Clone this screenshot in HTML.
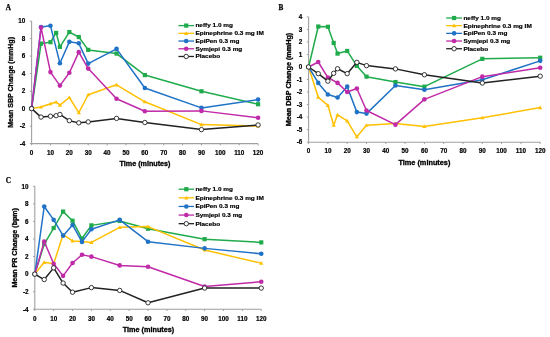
<!DOCTYPE html>
<html><head><meta charset="utf-8"><style>
html,body{margin:0;padding:0;background:#fff;width:550px;height:337px;overflow:hidden}
svg{display:block;will-change:transform}
.t{font-family:"Liberation Sans", sans-serif;font-weight:bold;font-size:6.3px;fill:#000;stroke:#000;stroke-width:0.2px}
.ti{font-family:"Liberation Sans", sans-serif;font-weight:bold;font-size:7px;fill:#000;stroke:#000;stroke-width:0.3px}
.lg{font-family:"Liberation Sans", sans-serif;font-weight:bold;font-size:6.45px;fill:#000;stroke:#000;stroke-width:0.2px}
.L{font-family:"Liberation Serif", serif;font-weight:bold;font-size:7.2px;fill:#000;stroke:#000;stroke-width:0.25px}
</style></head><body>
<svg width="550" height="337" viewBox="0 0 550 337">
<rect width="550" height="337" fill="#fff"/>
<g><path d="M31.60 21.10V143.60H258.10" fill="none" stroke="#a0a0a0" stroke-width="1.1"/>
<path d="M29.80 143.60H31.60M29.80 126.10H31.60M29.80 108.60H31.60M29.80 91.10H31.60M29.80 73.60H31.60M29.80 56.10H31.60M29.80 38.60H31.60M29.80 21.10H31.60M31.60 143.60V145.40M50.48 143.60V145.40M69.35 143.60V145.40M88.22 143.60V145.40M107.10 143.60V145.40M125.97 143.60V145.40M144.85 143.60V145.40M163.72 143.60V145.40M182.60 143.60V145.40M201.47 143.60V145.40M220.35 143.60V145.40M239.22 143.60V145.40M258.10 143.60V145.40" fill="none" stroke="#a0a0a0" stroke-width="1"/>
<text x="25.30" y="145.90" text-anchor="end" class="t">-4</text>
<text x="25.30" y="128.40" text-anchor="end" class="t">-2</text>
<text x="25.30" y="110.90" text-anchor="end" class="t">0</text>
<text x="25.30" y="93.40" text-anchor="end" class="t">2</text>
<text x="25.30" y="75.90" text-anchor="end" class="t">4</text>
<text x="25.30" y="58.40" text-anchor="end" class="t">6</text>
<text x="25.30" y="40.90" text-anchor="end" class="t">8</text>
<text x="25.30" y="23.40" text-anchor="end" class="t">10</text>
<text x="31.60" y="155.00" text-anchor="middle" class="t">0</text>
<text x="50.48" y="155.00" text-anchor="middle" class="t">10</text>
<text x="69.35" y="155.00" text-anchor="middle" class="t">20</text>
<text x="88.22" y="155.00" text-anchor="middle" class="t">30</text>
<text x="107.10" y="155.00" text-anchor="middle" class="t">40</text>
<text x="125.97" y="155.00" text-anchor="middle" class="t">50</text>
<text x="144.85" y="155.00" text-anchor="middle" class="t">60</text>
<text x="163.72" y="155.00" text-anchor="middle" class="t">70</text>
<text x="182.60" y="155.00" text-anchor="middle" class="t">80</text>
<text x="201.47" y="155.00" text-anchor="middle" class="t">90</text>
<text x="220.35" y="155.00" text-anchor="middle" class="t">100</text>
<text x="239.22" y="155.00" text-anchor="middle" class="t">110</text>
<text x="258.10" y="155.00" text-anchor="middle" class="t">120</text>
<text transform="translate(145.00 165.80) scale(1.027 1)" text-anchor="middle" class="ti">Time (minutes)</text>
<text transform="translate(13.30 82.40) rotate(-90) scale(1.010 1)" text-anchor="middle" class="ti">Mean SBP Change (mmHg)</text>
<text x="5.7" y="10" class="L">A</text>
<path d="M31.60 108.60 L41.04 43.59 L50.48 42.19 L56.14 32.91 L59.91 46.82 L69.35 32.04 L78.79 37.02 L88.22 49.89 L116.54 53.56 L144.85 75.09 L201.47 91.27 L258.10 104.22" fill="none" stroke="#1fab4b" stroke-width="1.5" stroke-linejoin="round"/>
<rect x="29.50" y="106.50" width="4.20" height="4.20" fill="#1fab4b"/>
<rect x="38.94" y="41.49" width="4.20" height="4.20" fill="#1fab4b"/>
<rect x="48.38" y="40.09" width="4.20" height="4.20" fill="#1fab4b"/>
<rect x="54.04" y="30.81" width="4.20" height="4.20" fill="#1fab4b"/>
<rect x="57.81" y="44.72" width="4.20" height="4.20" fill="#1fab4b"/>
<rect x="67.25" y="29.94" width="4.20" height="4.20" fill="#1fab4b"/>
<rect x="76.69" y="34.92" width="4.20" height="4.20" fill="#1fab4b"/>
<rect x="86.12" y="47.79" width="4.20" height="4.20" fill="#1fab4b"/>
<rect x="114.44" y="51.46" width="4.20" height="4.20" fill="#1fab4b"/>
<rect x="142.75" y="72.99" width="4.20" height="4.20" fill="#1fab4b"/>
<rect x="199.38" y="89.17" width="4.20" height="4.20" fill="#1fab4b"/>
<rect x="256.00" y="102.12" width="4.20" height="4.20" fill="#1fab4b"/>
<path d="M31.60 108.60 L41.04 107.02 L50.48 103.79 L56.14 102.04 L59.91 105.19 L69.35 97.49 L78.79 112.71 L88.22 94.77 L116.54 84.80 L144.85 101.77 L201.47 124.61 L258.10 126.01" fill="none" stroke="#ffc000" stroke-width="1.5" stroke-linejoin="round"/>
<path d="M31.60 106.50L33.70 110.17L29.50 110.17Z" fill="#ffc000"/>
<path d="M41.04 104.92L43.14 108.60L38.94 108.60Z" fill="#ffc000"/>
<path d="M50.48 101.69L52.58 105.36L48.38 105.36Z" fill="#ffc000"/>
<path d="M56.14 99.94L58.24 103.61L54.04 103.61Z" fill="#ffc000"/>
<path d="M59.91 103.09L62.01 106.76L57.81 106.76Z" fill="#ffc000"/>
<path d="M69.35 95.39L71.45 99.06L67.25 99.06Z" fill="#ffc000"/>
<path d="M78.79 110.61L80.89 114.29L76.69 114.29Z" fill="#ffc000"/>
<path d="M88.22 92.67L90.32 96.35L86.12 96.35Z" fill="#ffc000"/>
<path d="M116.54 82.70L118.64 86.38L114.44 86.38Z" fill="#ffc000"/>
<path d="M144.85 99.67L146.95 103.35L142.75 103.35Z" fill="#ffc000"/>
<path d="M201.47 122.51L203.57 126.19L199.38 126.19Z" fill="#ffc000"/>
<path d="M258.10 123.91L260.20 127.59L256.00 127.59Z" fill="#ffc000"/>
<path d="M31.60 108.60 L41.04 26.96 L50.48 25.82 L59.91 63.19 L69.35 41.84 L78.79 43.32 L88.22 63.62 L116.54 48.84 L144.85 88.04 L201.47 107.90 L258.10 99.59" fill="none" stroke="#1f72c6" stroke-width="1.5" stroke-linejoin="round"/>
<circle cx="31.60" cy="108.60" r="2.3" fill="#1f72c6"/>
<circle cx="41.04" cy="26.96" r="2.3" fill="#1f72c6"/>
<circle cx="50.48" cy="25.82" r="2.3" fill="#1f72c6"/>
<circle cx="59.91" cy="63.19" r="2.3" fill="#1f72c6"/>
<circle cx="69.35" cy="41.84" r="2.3" fill="#1f72c6"/>
<circle cx="78.79" cy="43.32" r="2.3" fill="#1f72c6"/>
<circle cx="88.22" cy="63.62" r="2.3" fill="#1f72c6"/>
<circle cx="116.54" cy="48.84" r="2.3" fill="#1f72c6"/>
<circle cx="144.85" cy="88.04" r="2.3" fill="#1f72c6"/>
<circle cx="201.47" cy="107.90" r="2.3" fill="#1f72c6"/>
<circle cx="258.10" cy="99.59" r="2.3" fill="#1f72c6"/>
<path d="M31.60 108.60 L41.04 27.58 L50.48 72.11 L59.91 85.59 L69.35 72.72 L78.79 52.16 L88.22 68.61 L116.54 98.80 L144.85 111.31 L201.47 110.88 L258.10 117.70" fill="none" stroke="#c02aa8" stroke-width="1.5" stroke-linejoin="round"/>
<circle cx="31.60" cy="108.60" r="2.3" fill="#c02aa8"/>
<circle cx="41.04" cy="27.58" r="2.3" fill="#c02aa8"/>
<circle cx="50.48" cy="72.11" r="2.3" fill="#c02aa8"/>
<circle cx="59.91" cy="85.59" r="2.3" fill="#c02aa8"/>
<circle cx="69.35" cy="72.72" r="2.3" fill="#c02aa8"/>
<circle cx="78.79" cy="52.16" r="2.3" fill="#c02aa8"/>
<circle cx="88.22" cy="68.61" r="2.3" fill="#c02aa8"/>
<circle cx="116.54" cy="98.80" r="2.3" fill="#c02aa8"/>
<circle cx="144.85" cy="111.31" r="2.3" fill="#c02aa8"/>
<circle cx="201.47" cy="110.88" r="2.3" fill="#c02aa8"/>
<circle cx="258.10" cy="117.70" r="2.3" fill="#c02aa8"/>
<path d="M31.60 108.60 L41.04 117.09 L50.48 116.21 L56.14 115.69 L59.91 114.46 L69.35 120.67 L78.79 122.86 L88.22 121.90 L116.54 118.40 L144.85 122.51 L201.47 129.60 L258.10 124.96" fill="none" stroke="#222222" stroke-width="1.5" stroke-linejoin="round"/>
<circle cx="31.60" cy="108.60" r="2.2" fill="#fff" stroke="#222222" stroke-width="0.9"/>
<circle cx="41.04" cy="117.09" r="2.2" fill="#fff" stroke="#222222" stroke-width="0.9"/>
<circle cx="50.48" cy="116.21" r="2.2" fill="#fff" stroke="#222222" stroke-width="0.9"/>
<circle cx="56.14" cy="115.69" r="2.2" fill="#fff" stroke="#222222" stroke-width="0.9"/>
<circle cx="59.91" cy="114.46" r="2.2" fill="#fff" stroke="#222222" stroke-width="0.9"/>
<circle cx="69.35" cy="120.67" r="2.2" fill="#fff" stroke="#222222" stroke-width="0.9"/>
<circle cx="78.79" cy="122.86" r="2.2" fill="#fff" stroke="#222222" stroke-width="0.9"/>
<circle cx="88.22" cy="121.90" r="2.2" fill="#fff" stroke="#222222" stroke-width="0.9"/>
<circle cx="116.54" cy="118.40" r="2.2" fill="#fff" stroke="#222222" stroke-width="0.9"/>
<circle cx="144.85" cy="122.51" r="2.2" fill="#fff" stroke="#222222" stroke-width="0.9"/>
<circle cx="201.47" cy="129.60" r="2.2" fill="#fff" stroke="#222222" stroke-width="0.9"/>
<circle cx="258.10" cy="124.96" r="2.2" fill="#fff" stroke="#222222" stroke-width="0.9"/>
<path d="M178.4 25.60H194" stroke="#1fab4b" stroke-width="1.3"/>
<rect x="184.10" y="23.50" width="4.20" height="4.20" fill="#1fab4b"/>
<text transform="translate(195.4 27.45) scale(1 0.95)" class="lg">neffy 1.0 mg</text>
<path d="M178.4 33.32H194" stroke="#ffc000" stroke-width="1.3"/>
<path d="M186.20 31.22L188.30 34.90L184.10 34.90Z" fill="#ffc000"/>
<text transform="translate(195.4 35.17) scale(1 0.95)" class="lg">Epinephrine 0.3 mg IM</text>
<path d="M178.4 41.04H194" stroke="#1f72c6" stroke-width="1.3"/>
<circle cx="186.20" cy="41.04" r="2.3" fill="#1f72c6"/>
<text transform="translate(195.4 42.89) scale(1 0.95)" class="lg">EpiPen 0.3 mg</text>
<path d="M178.4 48.76H194" stroke="#c02aa8" stroke-width="1.3"/>
<circle cx="186.20" cy="48.76" r="2.3" fill="#c02aa8"/>
<text transform="translate(195.4 50.61) scale(1 0.95)" class="lg">Symjepi 0.3 mg</text>
<path d="M178.4 56.48H194" stroke="#222222" stroke-width="1.3"/>
<circle cx="186.20" cy="56.48" r="2.2" fill="#fff" stroke="#222222" stroke-width="0.9"/>
<text transform="translate(195.4 58.33) scale(1 0.95)" class="lg">Placebo</text></g>
<g><path d="M308.60 16.88V142.18H540.20" fill="none" stroke="#a0a0a0" stroke-width="1.1"/>
<path d="M306.80 142.18H308.60M306.80 129.65H308.60M306.80 117.12H308.60M306.80 104.59H308.60M306.80 92.06H308.60M306.80 79.53H308.60M306.80 67.00H308.60M306.80 54.47H308.60M306.80 41.94H308.60M306.80 29.41H308.60M306.80 16.88H308.60M308.60 142.18V143.98M327.90 142.18V143.98M347.20 142.18V143.98M366.50 142.18V143.98M385.80 142.18V143.98M405.10 142.18V143.98M424.40 142.18V143.98M443.70 142.18V143.98M463.00 142.18V143.98M482.30 142.18V143.98M501.60 142.18V143.98M520.90 142.18V143.98M540.20 142.18V143.98" fill="none" stroke="#a0a0a0" stroke-width="1"/>
<text x="302.30" y="144.48" text-anchor="end" class="t">-6</text>
<text x="302.30" y="131.95" text-anchor="end" class="t">-5</text>
<text x="302.30" y="119.42" text-anchor="end" class="t">-4</text>
<text x="302.30" y="106.89" text-anchor="end" class="t">-3</text>
<text x="302.30" y="94.36" text-anchor="end" class="t">-2</text>
<text x="302.30" y="81.83" text-anchor="end" class="t">-1</text>
<text x="302.30" y="69.30" text-anchor="end" class="t">0</text>
<text x="302.30" y="56.77" text-anchor="end" class="t">1</text>
<text x="302.30" y="44.24" text-anchor="end" class="t">2</text>
<text x="302.30" y="31.71" text-anchor="end" class="t">3</text>
<text x="302.30" y="19.18" text-anchor="end" class="t">4</text>
<text x="308.60" y="153.30" text-anchor="middle" class="t">0</text>
<text x="327.90" y="153.30" text-anchor="middle" class="t">10</text>
<text x="347.20" y="153.30" text-anchor="middle" class="t">20</text>
<text x="366.50" y="153.30" text-anchor="middle" class="t">30</text>
<text x="385.80" y="153.30" text-anchor="middle" class="t">40</text>
<text x="405.10" y="153.30" text-anchor="middle" class="t">50</text>
<text x="424.40" y="153.30" text-anchor="middle" class="t">60</text>
<text x="443.70" y="153.30" text-anchor="middle" class="t">70</text>
<text x="463.00" y="153.30" text-anchor="middle" class="t">80</text>
<text x="482.30" y="153.30" text-anchor="middle" class="t">90</text>
<text x="501.60" y="153.30" text-anchor="middle" class="t">100</text>
<text x="520.90" y="153.30" text-anchor="middle" class="t">110</text>
<text x="540.20" y="153.30" text-anchor="middle" class="t">120</text>
<text transform="translate(424.40 164.50) scale(1.047 1)" text-anchor="middle" class="ti">Time (minutes)</text>
<text transform="translate(291.40 79.50) rotate(-90) scale(1.034 1)" text-anchor="middle" class="ti">Mean DBP Change (mmHg)</text>
<text x="278.4" y="10" class="L">B</text>
<path d="M308.60 67.00 L318.25 26.53 L327.90 26.78 L333.69 42.94 L337.55 53.59 L347.20 50.96 L356.85 65.87 L366.50 76.65 L395.45 82.04 L424.40 86.67 L482.30 58.86 L540.20 57.73" fill="none" stroke="#1fab4b" stroke-width="1.5" stroke-linejoin="round"/>
<rect x="306.50" y="64.90" width="4.20" height="4.20" fill="#1fab4b"/>
<rect x="316.15" y="24.43" width="4.20" height="4.20" fill="#1fab4b"/>
<rect x="325.80" y="24.68" width="4.20" height="4.20" fill="#1fab4b"/>
<rect x="331.59" y="40.84" width="4.20" height="4.20" fill="#1fab4b"/>
<rect x="335.45" y="51.49" width="4.20" height="4.20" fill="#1fab4b"/>
<rect x="345.10" y="48.86" width="4.20" height="4.20" fill="#1fab4b"/>
<rect x="354.75" y="63.77" width="4.20" height="4.20" fill="#1fab4b"/>
<rect x="364.40" y="74.55" width="4.20" height="4.20" fill="#1fab4b"/>
<rect x="393.35" y="79.94" width="4.20" height="4.20" fill="#1fab4b"/>
<rect x="422.30" y="84.57" width="4.20" height="4.20" fill="#1fab4b"/>
<rect x="480.20" y="56.76" width="4.20" height="4.20" fill="#1fab4b"/>
<rect x="538.10" y="55.63" width="4.20" height="4.20" fill="#1fab4b"/>
<path d="M308.60 67.00 L318.25 97.20 L327.90 105.34 L333.69 125.26 L337.55 114.86 L347.20 120.88 L356.85 136.79 L366.50 125.26 L395.45 123.51 L424.40 126.39 L482.30 117.75 L540.20 107.60" fill="none" stroke="#ffc000" stroke-width="1.5" stroke-linejoin="round"/>
<path d="M308.60 64.90L310.70 68.58L306.50 68.58Z" fill="#ffc000"/>
<path d="M318.25 95.10L320.35 98.77L316.15 98.77Z" fill="#ffc000"/>
<path d="M327.90 103.24L330.00 106.92L325.80 106.92Z" fill="#ffc000"/>
<path d="M333.69 123.16L335.79 126.84L331.59 126.84Z" fill="#ffc000"/>
<path d="M337.55 112.76L339.65 116.44L335.45 116.44Z" fill="#ffc000"/>
<path d="M347.20 118.78L349.30 122.45L345.10 122.45Z" fill="#ffc000"/>
<path d="M356.85 134.69L358.95 138.37L354.75 138.37Z" fill="#ffc000"/>
<path d="M366.50 123.16L368.60 126.84L364.40 126.84Z" fill="#ffc000"/>
<path d="M395.45 121.41L397.55 125.09L393.35 125.09Z" fill="#ffc000"/>
<path d="M424.40 124.29L426.50 127.97L422.30 127.97Z" fill="#ffc000"/>
<path d="M482.30 115.65L484.40 119.32L480.20 119.32Z" fill="#ffc000"/>
<path d="M540.20 105.50L542.30 109.17L538.10 109.17Z" fill="#ffc000"/>
<path d="M308.60 67.00 L318.25 82.91 L327.90 94.57 L337.55 97.57 L347.20 86.67 L356.85 112.11 L366.50 113.61 L395.45 85.54 L424.40 89.80 L482.30 79.78 L540.20 60.86" fill="none" stroke="#1f72c6" stroke-width="1.5" stroke-linejoin="round"/>
<circle cx="308.60" cy="67.00" r="2.3" fill="#1f72c6"/>
<circle cx="318.25" cy="82.91" r="2.3" fill="#1f72c6"/>
<circle cx="327.90" cy="94.57" r="2.3" fill="#1f72c6"/>
<circle cx="337.55" cy="97.57" r="2.3" fill="#1f72c6"/>
<circle cx="347.20" cy="86.67" r="2.3" fill="#1f72c6"/>
<circle cx="356.85" cy="112.11" r="2.3" fill="#1f72c6"/>
<circle cx="366.50" cy="113.61" r="2.3" fill="#1f72c6"/>
<circle cx="395.45" cy="85.54" r="2.3" fill="#1f72c6"/>
<circle cx="424.40" cy="89.80" r="2.3" fill="#1f72c6"/>
<circle cx="482.30" cy="79.78" r="2.3" fill="#1f72c6"/>
<circle cx="540.20" cy="60.86" r="2.3" fill="#1f72c6"/>
<path d="M308.60 67.00 L318.25 61.99 L327.90 77.53 L337.55 82.91 L347.20 92.06 L356.85 88.43 L366.50 110.48 L395.45 124.64 L424.40 99.33 L482.30 76.65 L540.20 67.75" fill="none" stroke="#c02aa8" stroke-width="1.5" stroke-linejoin="round"/>
<circle cx="308.60" cy="67.00" r="2.3" fill="#c02aa8"/>
<circle cx="318.25" cy="61.99" r="2.3" fill="#c02aa8"/>
<circle cx="327.90" cy="77.53" r="2.3" fill="#c02aa8"/>
<circle cx="337.55" cy="82.91" r="2.3" fill="#c02aa8"/>
<circle cx="347.20" cy="92.06" r="2.3" fill="#c02aa8"/>
<circle cx="356.85" cy="88.43" r="2.3" fill="#c02aa8"/>
<circle cx="366.50" cy="110.48" r="2.3" fill="#c02aa8"/>
<circle cx="395.45" cy="124.64" r="2.3" fill="#c02aa8"/>
<circle cx="424.40" cy="99.33" r="2.3" fill="#c02aa8"/>
<circle cx="482.30" cy="76.65" r="2.3" fill="#c02aa8"/>
<circle cx="540.20" cy="67.75" r="2.3" fill="#c02aa8"/>
<path d="M308.60 67.00 L318.25 73.64 L327.90 81.16 L333.69 73.27 L337.55 68.75 L347.20 73.64 L356.85 62.36 L366.50 65.62 L395.45 68.88 L424.40 74.77 L482.30 83.04 L540.20 76.15" fill="none" stroke="#222222" stroke-width="1.5" stroke-linejoin="round"/>
<circle cx="308.60" cy="67.00" r="2.2" fill="#fff" stroke="#222222" stroke-width="0.9"/>
<circle cx="318.25" cy="73.64" r="2.2" fill="#fff" stroke="#222222" stroke-width="0.9"/>
<circle cx="327.90" cy="81.16" r="2.2" fill="#fff" stroke="#222222" stroke-width="0.9"/>
<circle cx="333.69" cy="73.27" r="2.2" fill="#fff" stroke="#222222" stroke-width="0.9"/>
<circle cx="337.55" cy="68.75" r="2.2" fill="#fff" stroke="#222222" stroke-width="0.9"/>
<circle cx="347.20" cy="73.64" r="2.2" fill="#fff" stroke="#222222" stroke-width="0.9"/>
<circle cx="356.85" cy="62.36" r="2.2" fill="#fff" stroke="#222222" stroke-width="0.9"/>
<circle cx="366.50" cy="65.62" r="2.2" fill="#fff" stroke="#222222" stroke-width="0.9"/>
<circle cx="395.45" cy="68.88" r="2.2" fill="#fff" stroke="#222222" stroke-width="0.9"/>
<circle cx="424.40" cy="74.77" r="2.2" fill="#fff" stroke="#222222" stroke-width="0.9"/>
<circle cx="482.30" cy="83.04" r="2.2" fill="#fff" stroke="#222222" stroke-width="0.9"/>
<circle cx="540.20" cy="76.15" r="2.2" fill="#fff" stroke="#222222" stroke-width="0.9"/>
<path d="M446.2 18.00H462" stroke="#1fab4b" stroke-width="1.3"/>
<rect x="452.00" y="15.90" width="4.20" height="4.20" fill="#1fab4b"/>
<text transform="translate(463.4 19.85) scale(1 0.95)" class="lg">neffy 1.0 mg</text>
<path d="M446.2 25.68H462" stroke="#ffc000" stroke-width="1.3"/>
<path d="M454.10 23.58L456.20 27.25L452.00 27.25Z" fill="#ffc000"/>
<text transform="translate(463.4 27.53) scale(1 0.95)" class="lg">Epinephrine 0.3 mg IM</text>
<path d="M446.2 33.36H462" stroke="#1f72c6" stroke-width="1.3"/>
<circle cx="454.10" cy="33.36" r="2.3" fill="#1f72c6"/>
<text transform="translate(463.4 35.21) scale(1 0.95)" class="lg">EpiPen 0.3 mg</text>
<path d="M446.2 41.04H462" stroke="#c02aa8" stroke-width="1.3"/>
<circle cx="454.10" cy="41.04" r="2.3" fill="#c02aa8"/>
<text transform="translate(463.4 42.89) scale(1 0.95)" class="lg">Symjepi 0.3 mg</text>
<path d="M446.2 48.72H462" stroke="#222222" stroke-width="1.3"/>
<circle cx="454.10" cy="48.72" r="2.2" fill="#fff" stroke="#222222" stroke-width="0.9"/>
<text transform="translate(463.4 50.57) scale(1 0.95)" class="lg">Placebo</text></g>
<g><path d="M34.80 186.30V309.22H261.24" fill="none" stroke="#a0a0a0" stroke-width="1.1"/>
<path d="M33.00 309.22H34.80M33.00 291.66H34.80M33.00 274.10H34.80M33.00 256.54H34.80M33.00 238.98H34.80M33.00 221.42H34.80M33.00 203.86H34.80M33.00 186.30H34.80M34.80 309.22V311.02M53.67 309.22V311.02M72.54 309.22V311.02M91.41 309.22V311.02M110.28 309.22V311.02M129.15 309.22V311.02M148.02 309.22V311.02M166.89 309.22V311.02M185.76 309.22V311.02M204.63 309.22V311.02M223.50 309.22V311.02M242.37 309.22V311.02M261.24 309.22V311.02" fill="none" stroke="#a0a0a0" stroke-width="1"/>
<text x="28.50" y="311.52" text-anchor="end" class="t">-4</text>
<text x="28.50" y="293.96" text-anchor="end" class="t">-2</text>
<text x="28.50" y="276.40" text-anchor="end" class="t">0</text>
<text x="28.50" y="258.84" text-anchor="end" class="t">2</text>
<text x="28.50" y="241.28" text-anchor="end" class="t">4</text>
<text x="28.50" y="223.72" text-anchor="end" class="t">6</text>
<text x="28.50" y="206.16" text-anchor="end" class="t">8</text>
<text x="28.50" y="188.60" text-anchor="end" class="t">10</text>
<text x="34.80" y="320.90" text-anchor="middle" class="t">0</text>
<text x="53.67" y="320.90" text-anchor="middle" class="t">10</text>
<text x="72.54" y="320.90" text-anchor="middle" class="t">20</text>
<text x="91.41" y="320.90" text-anchor="middle" class="t">30</text>
<text x="110.28" y="320.90" text-anchor="middle" class="t">40</text>
<text x="129.15" y="320.90" text-anchor="middle" class="t">50</text>
<text x="148.02" y="320.90" text-anchor="middle" class="t">60</text>
<text x="166.89" y="320.90" text-anchor="middle" class="t">70</text>
<text x="185.76" y="320.90" text-anchor="middle" class="t">80</text>
<text x="204.63" y="320.90" text-anchor="middle" class="t">90</text>
<text x="223.50" y="320.90" text-anchor="middle" class="t">100</text>
<text x="242.37" y="320.90" text-anchor="middle" class="t">110</text>
<text x="261.24" y="320.90" text-anchor="middle" class="t">120</text>
<text transform="translate(148.50 331.70) scale(1.037 1)" text-anchor="middle" class="ti">Time (minutes)</text>
<text transform="translate(17.40 247.80) rotate(-90) scale(1.014 1)" text-anchor="middle" class="ti">Mean PR Change (bpm)</text>
<text x="5.8" y="182.6" class="L">C</text>
<path d="M34.80 274.10 L44.23 244.07 L53.67 228.01 L63.10 211.59 L72.54 220.72 L81.97 238.54 L91.41 225.37 L119.72 220.98 L148.02 228.71 L204.63 239.16 L261.24 242.40" fill="none" stroke="#1fab4b" stroke-width="1.5" stroke-linejoin="round"/>
<rect x="32.70" y="272.00" width="4.20" height="4.20" fill="#1fab4b"/>
<rect x="42.13" y="241.97" width="4.20" height="4.20" fill="#1fab4b"/>
<rect x="51.57" y="225.91" width="4.20" height="4.20" fill="#1fab4b"/>
<rect x="61.00" y="209.49" width="4.20" height="4.20" fill="#1fab4b"/>
<rect x="70.44" y="218.62" width="4.20" height="4.20" fill="#1fab4b"/>
<rect x="79.88" y="236.44" width="4.20" height="4.20" fill="#1fab4b"/>
<rect x="89.31" y="223.27" width="4.20" height="4.20" fill="#1fab4b"/>
<rect x="117.62" y="218.88" width="4.20" height="4.20" fill="#1fab4b"/>
<rect x="145.92" y="226.61" width="4.20" height="4.20" fill="#1fab4b"/>
<rect x="202.53" y="237.06" width="4.20" height="4.20" fill="#1fab4b"/>
<rect x="259.14" y="240.30" width="4.20" height="4.20" fill="#1fab4b"/>
<path d="M34.80 274.10 L44.23 262.33 L53.67 263.74 L63.10 234.68 L72.54 240.91 L81.97 241.44 L91.41 242.40 L119.72 227.30 L148.02 226.60 L204.63 250.04 L261.24 263.12" fill="none" stroke="#ffc000" stroke-width="1.5" stroke-linejoin="round"/>
<path d="M34.80 272.00L36.90 275.68L32.70 275.68Z" fill="#ffc000"/>
<path d="M44.23 260.23L46.34 263.91L42.13 263.91Z" fill="#ffc000"/>
<path d="M53.67 261.64L55.77 265.31L51.57 265.31Z" fill="#ffc000"/>
<path d="M63.10 232.58L65.20 236.25L61.00 236.25Z" fill="#ffc000"/>
<path d="M72.54 238.81L74.64 242.49L70.44 242.49Z" fill="#ffc000"/>
<path d="M81.97 239.34L84.07 243.01L79.88 243.01Z" fill="#ffc000"/>
<path d="M91.41 240.30L93.51 243.98L89.31 243.98Z" fill="#ffc000"/>
<path d="M119.72 225.20L121.81 228.88L117.62 228.88Z" fill="#ffc000"/>
<path d="M148.02 224.50L150.12 228.18L145.92 228.18Z" fill="#ffc000"/>
<path d="M204.63 247.94L206.73 251.62L202.53 251.62Z" fill="#ffc000"/>
<path d="M261.24 261.02L263.34 264.70L259.14 264.70Z" fill="#ffc000"/>
<path d="M34.80 274.10 L44.23 206.49 L53.67 219.84 L63.10 235.64 L72.54 224.93 L81.97 241.88 L91.41 229.23 L119.72 219.84 L148.02 241.70 L204.63 248.37 L261.24 253.82" fill="none" stroke="#1f72c6" stroke-width="1.5" stroke-linejoin="round"/>
<circle cx="34.80" cy="274.10" r="2.3" fill="#1f72c6"/>
<circle cx="44.23" cy="206.49" r="2.3" fill="#1f72c6"/>
<circle cx="53.67" cy="219.84" r="2.3" fill="#1f72c6"/>
<circle cx="63.10" cy="235.64" r="2.3" fill="#1f72c6"/>
<circle cx="72.54" cy="224.93" r="2.3" fill="#1f72c6"/>
<circle cx="81.97" cy="241.88" r="2.3" fill="#1f72c6"/>
<circle cx="91.41" cy="229.23" r="2.3" fill="#1f72c6"/>
<circle cx="119.72" cy="219.84" r="2.3" fill="#1f72c6"/>
<circle cx="148.02" cy="241.70" r="2.3" fill="#1f72c6"/>
<circle cx="204.63" cy="248.37" r="2.3" fill="#1f72c6"/>
<circle cx="261.24" cy="253.82" r="2.3" fill="#1f72c6"/>
<path d="M34.80 274.10 L44.23 241.53 L53.67 263.83 L63.10 275.86 L72.54 262.95 L81.97 254.78 L91.41 256.63 L119.72 265.41 L148.02 266.81 L204.63 286.57 L261.24 281.74" fill="none" stroke="#c02aa8" stroke-width="1.5" stroke-linejoin="round"/>
<circle cx="34.80" cy="274.10" r="2.3" fill="#c02aa8"/>
<circle cx="44.23" cy="241.53" r="2.3" fill="#c02aa8"/>
<circle cx="53.67" cy="263.83" r="2.3" fill="#c02aa8"/>
<circle cx="63.10" cy="275.86" r="2.3" fill="#c02aa8"/>
<circle cx="72.54" cy="262.95" r="2.3" fill="#c02aa8"/>
<circle cx="81.97" cy="254.78" r="2.3" fill="#c02aa8"/>
<circle cx="91.41" cy="256.63" r="2.3" fill="#c02aa8"/>
<circle cx="119.72" cy="265.41" r="2.3" fill="#c02aa8"/>
<circle cx="148.02" cy="266.81" r="2.3" fill="#c02aa8"/>
<circle cx="204.63" cy="286.57" r="2.3" fill="#c02aa8"/>
<circle cx="261.24" cy="281.74" r="2.3" fill="#c02aa8"/>
<path d="M34.80 274.10 L44.23 279.54 L53.67 267.87 L63.10 283.06 L72.54 292.19 L91.41 287.62 L119.72 290.43 L148.02 302.81 L204.63 288.06 L261.24 288.06" fill="none" stroke="#222222" stroke-width="1.5" stroke-linejoin="round"/>
<circle cx="34.80" cy="274.10" r="2.2" fill="#fff" stroke="#222222" stroke-width="0.9"/>
<circle cx="44.23" cy="279.54" r="2.2" fill="#fff" stroke="#222222" stroke-width="0.9"/>
<circle cx="53.67" cy="267.87" r="2.2" fill="#fff" stroke="#222222" stroke-width="0.9"/>
<circle cx="63.10" cy="283.06" r="2.2" fill="#fff" stroke="#222222" stroke-width="0.9"/>
<circle cx="72.54" cy="292.19" r="2.2" fill="#fff" stroke="#222222" stroke-width="0.9"/>
<circle cx="91.41" cy="287.62" r="2.2" fill="#fff" stroke="#222222" stroke-width="0.9"/>
<circle cx="119.72" cy="290.43" r="2.2" fill="#fff" stroke="#222222" stroke-width="0.9"/>
<circle cx="148.02" cy="302.81" r="2.2" fill="#fff" stroke="#222222" stroke-width="0.9"/>
<circle cx="204.63" cy="288.06" r="2.2" fill="#fff" stroke="#222222" stroke-width="0.9"/>
<circle cx="261.24" cy="288.06" r="2.2" fill="#fff" stroke="#222222" stroke-width="0.9"/>
<path d="M178.6 189.20H194" stroke="#1fab4b" stroke-width="1.3"/>
<rect x="184.20" y="187.10" width="4.20" height="4.20" fill="#1fab4b"/>
<text transform="translate(195.4 191.05) scale(1 0.95)" class="lg">neffy 1.0 mg</text>
<path d="M178.6 197.82H194" stroke="#ffc000" stroke-width="1.3"/>
<path d="M186.30 195.72L188.40 199.39L184.20 199.39Z" fill="#ffc000"/>
<text transform="translate(195.4 199.67) scale(1 0.95)" class="lg">Epinephrine 0.3 mg IM</text>
<path d="M178.6 206.44H194" stroke="#1f72c6" stroke-width="1.3"/>
<circle cx="186.30" cy="206.44" r="2.3" fill="#1f72c6"/>
<text transform="translate(195.4 208.29) scale(1 0.95)" class="lg">EpiPen 0.3 mg</text>
<path d="M178.6 215.06H194" stroke="#c02aa8" stroke-width="1.3"/>
<circle cx="186.30" cy="215.06" r="2.3" fill="#c02aa8"/>
<text transform="translate(195.4 216.91) scale(1 0.95)" class="lg">Symjepi 0.3 mg</text>
<path d="M178.6 223.68H194" stroke="#222222" stroke-width="1.3"/>
<circle cx="186.30" cy="223.68" r="2.2" fill="#fff" stroke="#222222" stroke-width="0.9"/>
<text transform="translate(195.4 225.53) scale(1 0.95)" class="lg">Placebo</text></g>
</svg>
</body></html>
